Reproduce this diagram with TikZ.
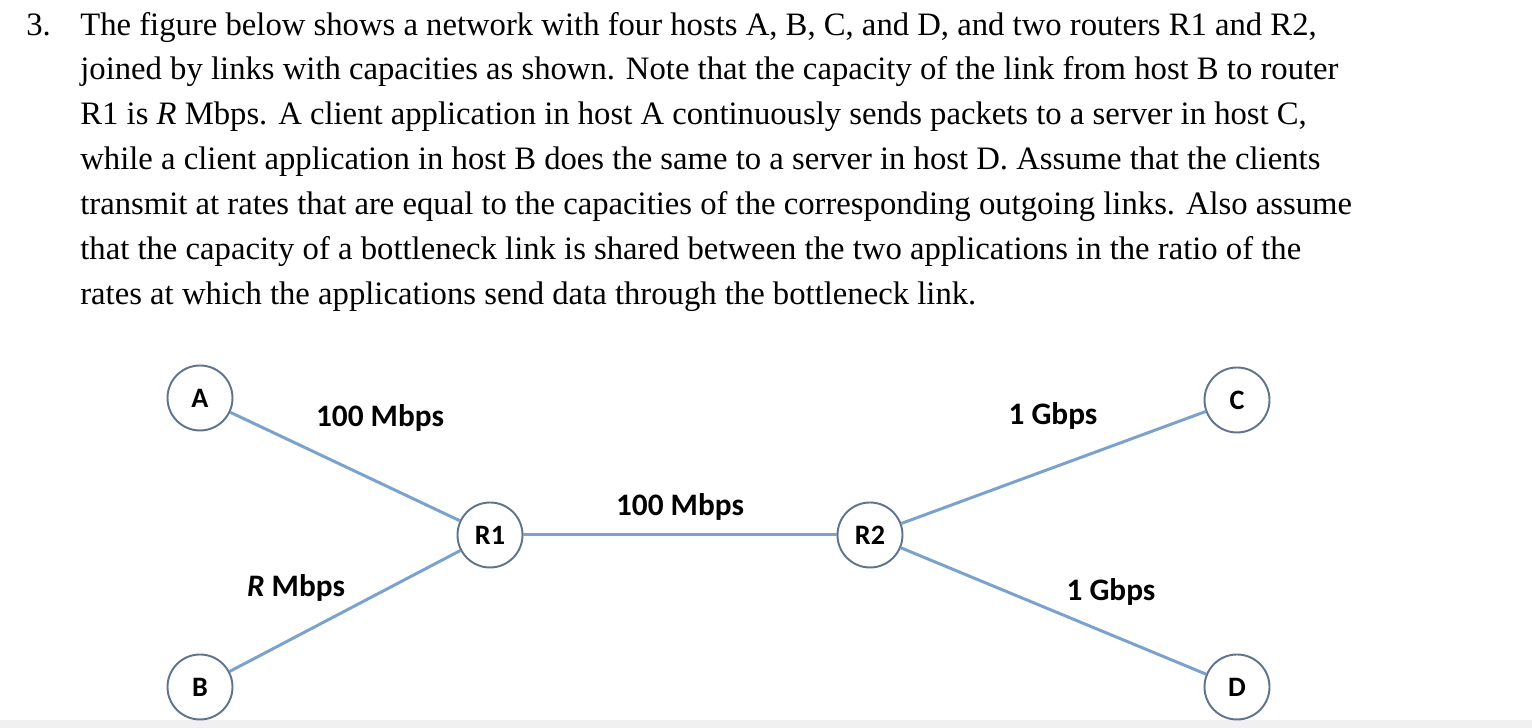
\documentclass[tikz,border=0pt]{standalone}
\usepackage{fontspec}
\setmainfont{Liberation Serif}
\newfontfamily\labfont{Carlito}
\definecolor{linkblue}{RGB}{122,162,204}
\definecolor{ringgray}{RGB}{95,115,140}
\tikzset{
  host/.style={circle, draw=ringgray, line width=1.1pt, fill=white, minimum size=1.3cm, inner sep=0pt, font=\labfont\bfseries\fontsize{16}{16}\selectfont},
  link/.style={color=linkblue, line width=1.7pt},
  rate/.style={font=\labfont\bfseries\fontsize{17.8}{18}\selectfont},
  para/.style={anchor=base west, inner sep=0pt, font=\fontsize{18.6}{22}\selectfont}
}
\begin{document}
\begin{tikzpicture}
      \useasboundingbox (0,0) rectangle (30.64,14.56);
      \fill [color=black!6] (0,0) rectangle (30.64,0.16);
      % question text
      \node [para] (num) at (0.52,13.85) {3.};
      \node [para] (l1) at (1.6,13.85) {The figure below shows a network with four hosts A, B, C, and D, and two routers R1 and R2,};
      \node [para] (l2) at (1.6,12.96) {joined by links with capacities as shown. Note that the capacity of the link from host B to router};
      \node [para] (l3) at (1.6,12.06) {R1 is \textit{R} Mbps. A client application in host A continuously sends packets to a server in host C,};
      \node [para] (l4) at (1.6,11.17) {while a client application in host B does the same to a server in host D. Assume that the clients};
      \node [para] (l5) at (1.6,10.27) {transmit at rates that are equal to the capacities of the corresponding outgoing links. Also assume};
      \node [para] (l6) at (1.6,9.37) {that the capacity of a bottleneck link is shared between the two applications in the ratio of the};
      \node [para] (l7) at (1.6,8.47) {rates at which the applications send data through the bottleneck link.};
      % hosts and routers
      \node [host] (A) at (4.0,6.6) {A};
      \node [host] (B) at (4.0,0.82) {B};
      \node [host] (R1) at (9.8,3.86) {R1};
      \node [host] (R2) at (17.4,3.86) {R2};
      \node [host] (C) at (24.74,6.56) {C};
      \node [host] (D) at (24.74,0.82) {D};
      % links
      \draw [link] (A) -- (R1);
      \draw [link] (B) -- (R1);
      \draw [link] (R1) -- (R2);
      \draw [link] (R2) -- (C);
      \draw [link] (R2) -- (D);
      % capacities
      \node [rate] (ar) at (7.6,6.2) {100 Mbps};
      \node [rate] (br) at (5.92,2.8) {\textit{R} Mbps};
      \node [rate] (rr) at (13.6,4.42) {100 Mbps};
      \node [rate] (cr) at (21.06,6.24) {1 Gbps};
      \node [rate] (dr) at (22.22,2.72) {1 Gbps};
    \end{tikzpicture}
\end{document}
